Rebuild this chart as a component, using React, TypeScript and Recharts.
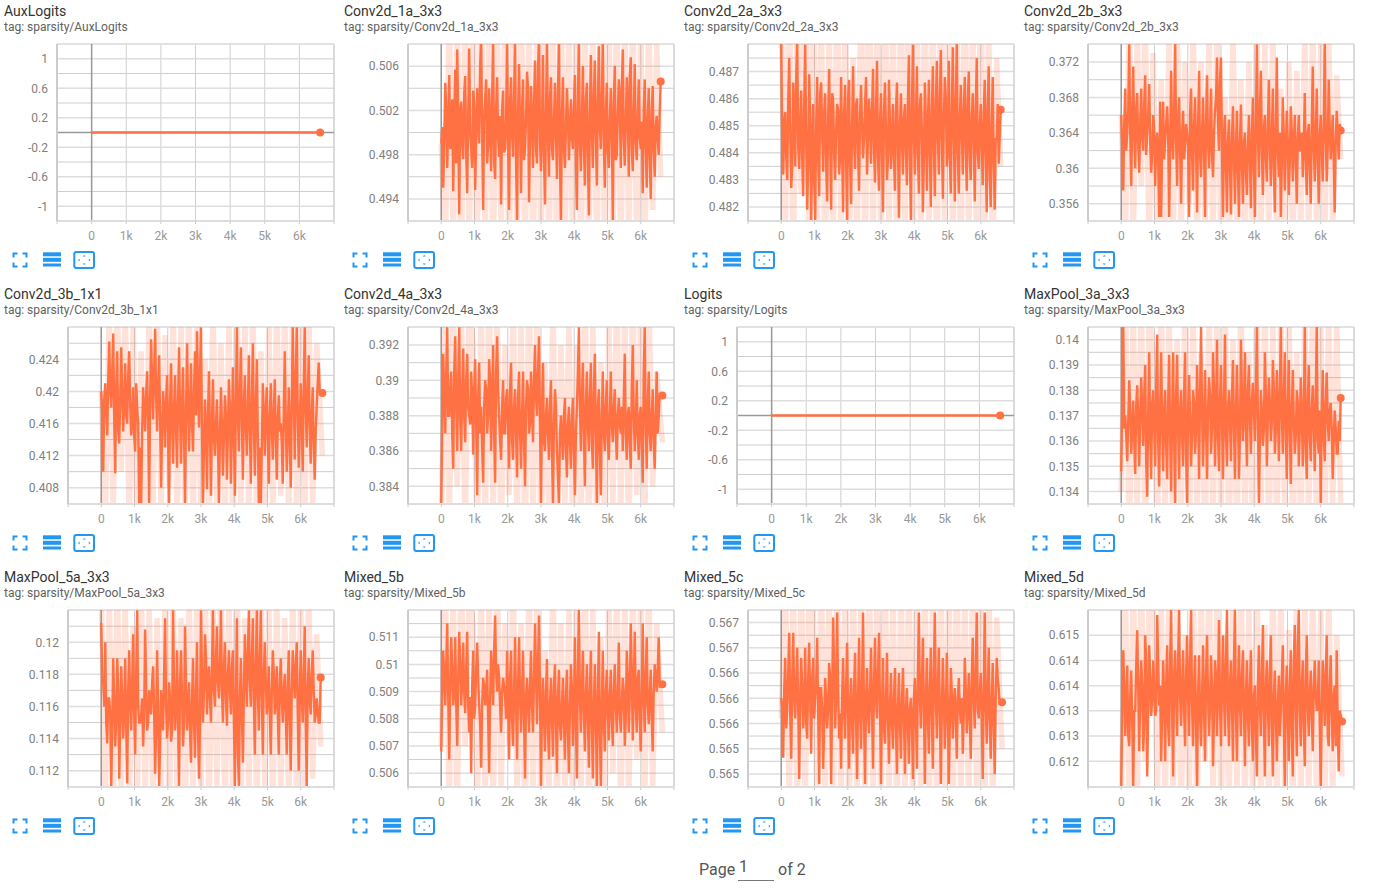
import {
  LineChart,
  Line,
  XAxis,
  YAxis,
  CartesianGrid,
  ReferenceLine,
  ReferenceDot,
} from "recharts";

const ORANGE = "#ff7043";
const BLUE = "#2196f3";
const FONT = "Roboto, sans-serif";

const STEPS = [
  0, 60, 120, 180, 240, 300, 360, 420, 480, 540,
  600, 660, 720, 780, 840, 900, 960, 1020, 1080, 1140,
  1200, 1260, 1320, 1380, 1440, 1500, 1560, 1620, 1680, 1740,
  1800, 1860, 1920, 1980, 2040, 2100, 2160, 2220, 2280, 2340,
  2400, 2460, 2520, 2580, 2640, 2700, 2760, 2820, 2880, 2940,
  3000, 3060, 3120, 3180, 3240, 3300, 3360, 3420, 3480, 3540,
  3600, 3660, 3720, 3780, 3840, 3900, 3960, 4020, 4080, 4140,
  4200, 4260, 4320, 4380, 4440, 4500, 4560, 4620, 4680, 4740,
  4800, 4860, 4920, 4980, 5040, 5100, 5160, 5220, 5280, 5340,
  5400, 5460, 5520, 5580, 5640, 5700, 5760, 5820, 5880, 5940,
  6000, 6060, 6120, 6180, 6240, 6300, 6360, 6420, 6480, 6540,
];
const X_TICKS = [-1000, 0, 1000, 2000, 3000, 4000, 5000, 6000, 7000];

// smoothed spikes, last entry is the end dot
const CONV_1A = [
  .4990, .4950, .5045, .4968, .5052, .4990, .4947, .5057, .5075, .4926,
  .5028, .4976, .5051, .4945, .5076, .4985, .5038, .4948, .5040, .4990,
  .5085, .4930, .5030, .4972, .5040, .4965, .5082, .4958, .5050, .4978,
  .4935, .5038, .4985, .5085, .4930, .5050, .4978, .5085, .4920, .5062,
  .4945, .5048, .4985, .5055, .4937, .5042, .4968, .5065, .4972, .5085,
  .4965, .5070, .4935, .5085, .4960, .5050, .4975, .5045, .4958, .5085,
  .4920, .5050, .4968, .5040, .4975, .5030, .4985, .5052, .4930, .5085,
  .4965, .5060, .4952, .5045, .4925, .5070, .4968, .5065, .4952, .5078,
  .4985, .5085, .4950, .5045, .4968, .5040, .4920, .5060, .4980, .5048,
  .4968, .5075, .4970, .5050, .4960, .5068, .4965, .5062, .4975, .5048,
  .4985, .4945, .5048, .4950, .5040, .4940, .5042, .4960, .5015, .4980,
  .5046,
];
const CONV_2A = [
  .4881, .4832, .4855, .4830, .4875, .4827, .4866, .4835, .4882, .4834,
  .4863, .4824, .4880, .4819, .4869, .4815, .4858, .4814, .4868, .4824,
  .4866, .4833, .4862, .4822, .4871, .4819, .4860, .4830, .4858, .4832,
  .4868, .4818, .4865, .4814, .4867, .4821, .4872, .4834, .4860, .4826,
  .4865, .4838, .4858, .4832, .4860, .4836, .4871, .4829, .4874, .4826,
  .4862, .4818, .4866, .4830, .4867, .4834, .4858, .4826, .4866, .4816,
  .4862, .4832, .4858, .4828, .4876, .4815, .4880, .4832, .4872, .4825,
  .4862, .4818, .4866, .4826, .4867, .4820, .4872, .4824, .4874, .4832,
  .4878, .4823, .4868, .4835, .4874, .4825, .4879, .4822, .4881, .4825,
  .4865, .4832, .4868, .4826, .4870, .4830, .4862, .4822, .4875, .4834,
  .4858, .4828, .4867, .4818, .4872, .4820, .4868, .4819, .4845, .4836,
  .48559,
];
const CONV_2B = [
  .3660, .3575, .3690, .3640, .3740, .3580, .3715, .3600, .3685, .3595,
  .3690, .3620, .3705, .3640, .3695, .3595, .3660, .3580, .3640, .3545,
  .3545, .3675, .3630, .3670, .3545, .3710, .3610, .3745, .3580, .3680,
  .3560, .3665, .3625, .3640, .3545, .3690, .3575, .3680, .3550, .3710,
  .3590, .3680, .3545, .3705, .3600, .3690, .3590, .3665, .3725, .3620,
  .3725, .3545, .3660, .3550, .3655, .3548, .3670, .3560, .3665, .3545,
  .3672, .3560, .3640, .3570, .3660, .3555, .3680, .3545, .3740, .3590,
  .3710, .3570, .3660, .3585, .3700, .3580, .3690, .3550, .3725, .3590,
  .3545, .3680, .3575, .3665, .3570, .3670, .3585, .3660, .3560, .3660,
  .3620, .3590, .3685, .3570, .3650, .3560, .3715, .3585, .3690, .3560,
  .3660, .3585, .3745, .3585, .3700, .3610, .3660, .3550, .3665, .3610,
  .36426,
];
const CONV_3B = [
  .4200, .4100, .4210, .4145, .4262, .4180, .4272, .4098, .4250, .4135,
  .4255, .4150, .4235, .4160, .4250, .4145, .4205, .4125, .4180, .4060,
  .4060, .4205, .4150, .4225, .4060, .4265, .4165, .4278, .4150, .4245,
  .4080, .4200, .4130, .4220, .4055, .4235, .4110, .4220, .4105, .4255,
  .4110, .4230, .4060, .4260, .4125, .4235, .4125, .4250, .4275, .4155,
  .4280, .4060, .4190, .4078, .4225, .4070, .4215, .4120, .4190, .4060,
  .4205, .4095, .4195, .4090, .4215, .4085, .4230, .4070, .4280, .4125,
  .4255, .4090, .4220, .4120, .4245, .4085, .4260, .4095, .4240, .4060,
  .4060, .4210, .4120, .4205, .4085, .4210, .4115, .4215, .4090, .4195,
  .4160, .4085, .4250, .4100, .4205, .4080, .4280, .4115, .4280, .4105,
  .4210, .4100, .4280, .4130, .4245, .4110, .4205, .4090, .4182, .4236,
  .41981,
];
const CONV_4A = [
  .3830, .3915, .3870, .3930, .3880, .3905, .3850, .3925, .3860, .3930,
  .3860, .3918, .3865, .3915, .3880, .3905, .3858, .3912, .3835, .3910,
  .3885, .3842, .3900, .3870, .3912, .3860, .3920, .3842, .3925, .3880,
  .3855, .3900, .3870, .3895, .3850, .3910, .3855, .3895, .3845, .3905,
  .3850, .3905, .3840, .3900, .3870, .3905, .3865, .3920, .3880, .3925,
  .3830, .3910, .3860, .3890, .3855, .3900, .3830, .3895, .3860, .3830,
  .3880, .3855, .3890, .3845, .3885, .3850, .3890, .3835, .3885, .3930,
  .3860, .3910, .3840, .3905, .3860, .3910, .3850, .3915, .3830, .3895,
  .3835, .3905, .3860, .3900, .3855, .3905, .3865, .3895, .3855, .3890,
  .3870, .3860, .3915, .3855, .3885, .3850, .3920, .3860, .3900, .3855,
  .3885, .3842, .3930, .3850, .3905, .3860, .3895, .3850, .3905, .3880,
  .38914,
];
const MAX_3A = [
  .1348, .1405, .1370, .1352, .1384, .1355, .1376, .1347, .1382, .1350,
  .1385, .1358, .1390, .1338, .1395, .1345, .1380, .1350, .1402, .1342,
  .1395, .1348, .1380, .1345, .1394, .1340, .1395, .1335, .1394, .1345,
  .1380, .1350, .1395, .1335, .1386, .1350, .1380, .1355, .1390, .1345,
  .1405, .1350, .1388, .1345, .1385, .1355, .1395, .1350, .1400, .1348,
  .1390, .1345, .1402, .1350, .1380, .1352, .1392, .1345, .1390, .1345,
  .1400, .1360, .1395, .1350, .1390, .1355, .1383, .1360, .1405, .1335,
  .1380, .1358, .1395, .1350, .1385, .1360, .1392, .1355, .1388, .1352,
  .1405, .1355, .1395, .1345, .1392, .1343, .1388, .1355, .1380, .1350,
  .1385, .1350, .1405, .1345, .1390, .1352, .1382, .1348, .1405, .1355,
  .1335, .1388, .1352, .1387, .1360, .1375, .1345, .1372, .1355, .1368,
  .1377,
];
const MAX_5A = [
  .1212, .1175, .1200, .1137, .1165, .1110, .1190, .1135, .1190, .1115,
  .1185, .1140, .1190, .1112, .1195, .1145, .1205, .1130, .1220, .1150,
  .1155, .1135, .1208, .1145, .1170, .1155, .1185, .1118, .1195, .1110,
  .1170, .1145, .1215, .1140, .1175, .1138, .1220, .1145, .1195, .1110,
  .1195, .1135, .1210, .1145, .1175, .1125, .1190, .1128, .1200, .1115,
  .1220, .1150, .1205, .1155, .1185, .1150, .1220, .1160, .1210, .1165,
  .1220, .1150, .1200, .1148, .1195, .1155, .1195, .1110, .1215, .1110,
  .1190, .1125, .1205, .1160, .1220, .1160, .1215, .1130, .1220, .1145,
  .1220, .1130, .1200, .1155, .1185, .1130, .1195, .1155, .1185, .1130,
  .1190, .1150, .1180, .1130, .1195, .1120, .1195, .1165, .1200, .1120,
  .1195, .1150, .1210, .1110, .1190, .1155, .1195, .1150, .1165, .1150,
  .1178,
];
const MIXED_5B = [
  .5068, .5105, .5085, .5115, .5065, .5110, .5085, .5110, .5070, .5112,
  .5085, .5108, .5082, .5112, .5075, .5060, .5105, .5085, .5108, .5085,
  .5062, .5095, .5085, .5098, .5060, .5105, .5085, .5118, .5090, .5095,
  .5075, .5095, .5088, .5105, .5065, .5105, .5070, .5110, .5065, .5110,
  .5075, .5105, .5058, .5095, .5075, .5105, .5075, .5115, .5078, .5118,
  .5055, .5095, .5068, .5102, .5065, .5095, .5066, .5100, .5060, .5098,
  .5072, .5095, .5065, .5098, .5060, .5100, .5070, .5110, .5058, .5120,
  .5075, .5105, .5068, .5100, .5062, .5105, .5058, .5100, .5055, .5112,
  .5055, .5105, .5068, .5098, .5072, .5098, .5070, .5100, .5075, .5108,
  .5075, .5095, .5070, .5105, .5075, .5115, .5072, .5112, .5075, .5098,
  .5068, .5115, .5075, .5110, .5078, .5098, .5068, .5100, .5090, .5110,
  .50927,
];
const MIXED_5C = [
  .56600, .56541, .56640, .56590, .56665, .56540, .56665, .56580, .56650, .56520,
  .56640, .56570, .56650, .56560, .56655, .56545, .56640, .56600, .56660, .56515,
  .56610, .56530, .56620, .56570, .56635, .56515, .56680, .56570, .56685, .56560,
  .56530, .56640, .56560, .56655, .56530, .56620, .56545, .56645, .56520, .56660,
  .56550, .56685, .56515, .56630, .56565, .56650, .56530, .56660, .56580, .56665,
  .56515, .56640, .56555, .56645, .56535, .56625, .56550, .56630, .56525, .56625,
  .56540, .56630, .56525, .56610, .56535, .56600, .56520, .56620, .56530, .56685,
  .56570, .56660, .56515, .56640, .56545, .56650, .56530, .56685, .56560, .56650,
  .56515, .56640, .56550, .56645, .56515, .56630, .56560, .56610, .56540, .56620,
  .56575, .56545, .56640, .56565, .56625, .56540, .56660, .56570, .56685, .56580,
  .56625, .56520, .56685, .56555, .56650, .56540, .56635, .56525, .56640, .56610,
  .56596,
];
const MIXED_5D = [
  .6120, .6147, .6130, .6144, .6128, .6143, .6120, .6135, .6151, .6127,
  .6145, .6127, .6150, .6122, .6148, .6134, .6145, .6134, .6154, .6136,
  .6125, .6145, .6125, .6148, .6128, .6155, .6122, .6147, .6130, .6155,
  .6132, .6147, .6128, .6150, .6130, .6155, .6128, .6146, .6120, .6146,
  .6128, .6148, .6125, .6150, .6130, .6146, .6124, .6145, .6130, .6153,
  .6128, .6150, .6130, .6155, .6128, .6145, .6125, .6155, .6125, .6148,
  .6130, .6147, .6124, .6145, .6128, .6147, .6125, .6140, .6122, .6148,
  .6130, .6152, .6122, .6145, .6128, .6150, .6122, .6143, .6125, .6142,
  .6135, .6148, .6120, .6144, .6125, .6147, .6122, .6152, .6126, .6155,
  .6128, .6145, .6124, .6150, .6130, .6143, .6127, .6145, .6135, .6145,
  .6120, .6145, .6132, .6150, .6128, .6146, .6127, .6140, .6147, .6123,
  .61329,
];

// values between the spikes, one after each step above
const MID_1A = [
  .5005, .4992, .5022, .5010, .4985, .5030, .5008, .4972, .5012, .5020,
  .4990, .5035, .4982, .5015, .5000, .4968, .5025, .4995, .5010, .5060,
  .4998, .5012, .5048, .4988, .5005, .5030, .4975, .5022, .4995, .5015,
  .5020, .4982, .5010, .4990, .5028, .4998, .5032, .4972, .5018, .5002,
  .5022, .4975, .5012, .5040, .4996, .5010, .5025, .4985, .5058, .4992,
  .5005, .4980, .5015, .4998, .5030, .4985, .5012, .5000, .5035, .4975,
  .5018, .4985, .5005, .5015, .5002, .4995, .5022, .4972, .5030, .4990,
  .5012, .4988, .5030, .4978, .5015, .5002, .5035, .4995, .5025, .5005,
  .5030, .4990, .5018, .4982, .5010, .5000, .5028, .4975, .5015, .5025,
  .5040, .4992, .5008, .5020, .5052, .4985, .5018, .4990, .5012, .4995,
  .5010, .5022, .4988, .5012, .4978, .5020, .4985, .5005, .4995, .5018,
];
const MID_2A = [
  .4845, .4852, .4838, .4860, .4848, .4835, .4855, .4868, .4842, .4852,
  .4838, .4858, .4845, .4835, .4852, .4842, .4830, .4850, .4838, .4862,
  .4848, .4855, .4836, .4852, .4844, .4862, .4840, .4848, .4856, .4838,
  .4842, .4855, .4838, .4860, .4835, .4850, .4844, .4858, .4840, .4854,
  .4850, .4845, .4868, .4846, .4852, .4855, .4842, .4856, .4838, .4852,
  .4840, .4855, .4848, .4838, .4850, .4846, .4838, .4855, .4842, .4850,
  .4845, .4853, .4840, .4860, .4838, .4856, .4846, .4852, .4840, .4858,
  .4848, .4838, .4852, .4850, .4840, .4856, .4842, .4858, .4846, .4860,
  .4845, .4852, .4860, .4842, .4838, .4855, .4848, .4858, .4840, .4852,
  .4848, .4856, .4842, .4860, .4838, .4852, .4846, .4856, .4840, .4850,
  .4842, .4855, .4838, .4858, .4832, .4850, .4836, .4845, .4858, .4846,
];
const MID_2B = [
  .3625, .3650, .3620, .3665, .3640, .3660, .3635, .3670, .3625, .3650,
  .3635, .3672, .3615, .3660, .3630, .3615, .3645, .3625, .3610, .3675,
  .3625, .3610, .3650, .3640, .3620, .3645, .3660, .3630, .3655, .3620,
  .3640, .3610, .3650, .3625, .3660, .3615, .3650, .3625, .3645, .3615,
  .3640, .3620, .3650, .3630, .3645, .3615, .3640, .3680, .3650, .3700,
  .3620, .3640, .3600, .3630, .3600, .3635, .3610, .3625, .3595, .3630,
  .3605, .3630, .3595, .3625, .3610, .3640, .3600, .3650, .3640, .3665,
  .3620, .3645, .3610, .3650, .3625, .3640, .3600, .3650, .3620, .3640,
  .3610, .3635, .3620, .3630, .3610, .3640, .3625, .3610, .3635, .3620,
  .3640, .3630, .3610, .3640, .3600, .3650, .3625, .3640, .3610, .3635,
  .3620, .3650, .3640, .3625, .3645, .3635, .3610, .3630, .3640, .3650,
];
const MID_3B = [
  .4175, .4190, .4180, .4215, .4200, .4225, .4165, .4205, .4150, .4190,
  .4200, .4185, .4170, .4220, .4185, .4165, .4145, .4210, .4160, .4130,
  .4150, .4175, .4195, .4165, .4190, .4210, .4225, .4195, .4205, .4165,
  .4150, .4175, .4190, .4150, .4185, .4160, .4180, .4150, .4190, .4170,
  .4185, .4145, .4170, .4190, .4180, .4160, .4200, .4170, .4205, .4220,
  .4150, .4130, .4150, .4170, .4145, .4165, .4140, .4160, .4135, .4145,
  .4160, .4145, .4170, .4150, .4180, .4155, .4140, .4190, .4170, .4200,
  .4165, .4185, .4155, .4180, .4150, .4190, .4160, .4185, .4140, .4130,
  .4135, .4165, .4180, .4140, .4170, .4155, .4175, .4140, .4165, .4150,
  .4135, .4180, .4165, .4150, .4140, .4185, .4200, .4215, .4170, .4155,
  .4165, .4205, .4180, .4195, .4155, .4170, .4135, .4150, .4210, .4200,
];
const MID_4A = [
  .3875, .3892, .3905, .3880, .3895, .3870, .3905, .3885, .3900, .3878,
  .3895, .3880, .3900, .3885, .3875, .3890, .3895, .3875, .3890, .3870,
  .3862, .3885, .3895, .3880, .3900, .3890, .3870, .3905, .3895, .3865,
  .3885, .3870, .3890, .3875, .3895, .3865, .3885, .3870, .3890, .3870,
  .3880, .3865, .3885, .3895, .3875, .3885, .3900, .3890, .3905, .3875,
  .3885, .3865, .3880, .3870, .3885, .3860, .3875, .3885, .3845, .3870,
  .3868, .3880, .3860, .3875, .3865, .3878, .3860, .3870, .3905, .3885,
  .3890, .3870, .3885, .3875, .3890, .3865, .3895, .3870, .3885, .3860,
  .3880, .3870, .3885, .3865, .3880, .3875, .3885, .3870, .3880, .3875,
  .3885, .3890, .3870, .3880, .3865, .3895, .3880, .3875, .3870, .3880,
  .3865, .3905, .3875, .3885, .3870, .3880, .3865, .3880, .3870, .3892,
];
const MID_3A = [
  .1375, .1365, .1362, .1368, .1372, .1365, .1360, .1374, .1368, .1370,
  .1372, .1378, .1352, .1370, .1362, .1375, .1365, .1380, .1360, .1372,
  .1365, .1372, .1358, .1375, .1362, .1370, .1360, .1378, .1365, .1372,
  .1362, .1378, .1355, .1372, .1368, .1362, .1375, .1365, .1372, .1378,
  .1372, .1368, .1365, .1372, .1378, .1365, .1380, .1370, .1362, .1376,
  .1368, .1376, .1362, .1372, .1368, .1378, .1365, .1372, .1370, .1362,
  .1378, .1375, .1365, .1380, .1368, .1376, .1372, .1380, .1368, .1360,
  .1372, .1365, .1378, .1370, .1375, .1368, .1380, .1365, .1372, .1378,
  .1370, .1378, .1362, .1375, .1365, .1372, .1368, .1362, .1375, .1365,
  .1372, .1368, .1358, .1375, .1362, .1372, .1366, .1378, .1360, .1372,
  .1370, .1362, .1375, .1368, .1372, .1365, .1360, .1365, .1355, .1360,
];
const MID_5A = [
  .1178, .1160, .1150, .1165, .1155, .1148, .1165, .1150, .1170, .1150,
  .1165, .1158, .1148, .1170, .1162, .1175, .1155, .1180, .1160, .1150,
  .1165, .1155, .1172, .1150, .1162, .1175, .1158, .1145, .1160, .1135,
  .1155, .1180, .1160, .1150, .1165, .1145, .1170, .1160, .1150, .1175,
  .1165, .1150, .1172, .1160, .1145, .1165, .1150, .1170, .1145, .1150,
  .1180, .1170, .1190, .1175, .1165, .1185, .1170, .1190, .1175, .1185,
  .1170, .1185, .1165, .1180, .1170, .1185, .1150, .1165, .1130, .1165,
  .1155, .1170, .1180, .1195, .1175, .1190, .1165, .1185, .1170, .1190,
  .1165, .1180, .1175, .1165, .1155, .1170, .1180, .1165, .1155, .1175,
  .1165, .1170, .1155, .1175, .1150, .1170, .1180, .1185, .1155, .1170,
  .1165, .1180, .1150, .1170, .1165, .1180, .1170, .1155, .1158, .1150,
];
const MID_5B = [
  .5090, .5095, .5100, .5088, .5092, .5098, .5090, .5085, .5095, .5100,
  .5095, .5090, .5098, .5085, .5088, .5092, .5080, .5098, .5095, .5078,
  .5085, .5092, .5090, .5080, .5088, .5095, .5105, .5098, .5100, .5085,
  .5090, .5092, .5080, .5088, .5095, .5080, .5090, .5085, .5092, .5088,
  .5090, .5080, .5088, .5085, .5092, .5085, .5095, .5098, .5100, .5088,
  .5085, .5080, .5090, .5075, .5085, .5080, .5092, .5078, .5088, .5078,
  .5085, .5078, .5088, .5075, .5085, .5090, .5082, .5078, .5098, .5088,
  .5092, .5082, .5088, .5080, .5090, .5078, .5085, .5080, .5088, .5075,
  .5085, .5078, .5090, .5082, .5088, .5080, .5090, .5085, .5088, .5082,
  .5085, .5090, .5080, .5095, .5088, .5098, .5090, .5085, .5095, .5080,
  .5090, .5088, .5095, .5085, .5088, .5080, .5090, .5095, .5098, .5092,
];
const MID_5C = [
  .56590, .56610, .56570, .56625, .56585, .56620, .56600, .56615, .56590, .56600,
  .56610, .56595, .56575, .56620, .56600, .56620, .56580, .56615, .56585, .56610,
  .56590, .56570, .56600, .56590, .56620, .56600, .56630, .56600, .56610, .56585,
  .56600, .56590, .56610, .56585, .56595, .56575, .56610, .56580, .56600, .56590,
  .56610, .56580, .56600, .56585, .56605, .56590, .56615, .56600, .56625, .56590,
  .56590, .56570, .56600, .56580, .56590, .56575, .56600, .56570, .56590, .56575,
  .56595, .56580, .56590, .56570, .56590, .56575, .56600, .56580, .56625, .56600,
  .56615, .56590, .56600, .56580, .56610, .56585, .56625, .56600, .56610, .56585,
  .56590, .56600, .56585, .56595, .56575, .56605, .56590, .56580, .56600, .56590,
  .56600, .56585, .56610, .56590, .56580, .56620, .56600, .56625, .56590, .56605,
  .56585, .56610, .56595, .56605, .56580, .56595, .56575, .56600, .56620, .56595,
];
const MID_5D = [
  .6135, .6140, .6136, .6130, .6138, .6133, .6135, .6144, .6140, .6138,
  .6140, .6132, .6145, .6135, .6142, .6137, .6140, .6135, .6145, .6140,
  .6135, .6138, .6140, .6132, .6145, .6135, .6142, .6137, .6145, .6138,
  .6140, .6135, .6142, .6138, .6145, .6136, .6140, .6132, .6138, .6134,
  .6138, .6135, .6142, .6138, .6136, .6140, .6134, .6142, .6140, .6136,
  .6140, .6138, .6145, .6135, .6140, .6136, .6145, .6134, .6140, .6136,
  .6142, .6135, .6138, .6134, .6140, .6132, .6138, .6130, .6140, .6136,
  .6142, .6134, .6140, .6136, .6142, .6132, .6138, .6134, .6136, .6130,
  .6142, .6132, .6138, .6134, .6140, .6130, .6145, .6136, .6148, .6135,
  .6140, .6132, .6142, .6136, .6138, .6134, .6140, .6138, .6136, .6132,
  .6135, .6140, .6142, .6130, .6140, .6135, .6138, .6128, .6132, .6135,
];

// raw values behind the smoothed line, one for every second step
const RAW_1A = [
  .499, .489, .511, .490, .510, .488, .512, .490,
  .511, .489, .513, .490, .511, .488, .510, .491,
  .512, .488, .511, .490, .513, .489, .510, .488,
  .511, .490, .512, .489, .511, .488, .513, .490,
  .510, .489, .512, .488, .511, .490, .510, .489,
  .513, .488, .511, .490, .512, .489, .510, .491,
  .511, .490, .509, .489, .510, .493, .508, .496,
];
const RAW_2A = [
  .489, .481, .490, .480, .489, .4825, .491, .480,
  .490, .481, .489, .480, .4885, .4805, .490, .481,
  .489, .480, .4875, .4805, .490, .480, .491, .481,
  .489, .4805, .490, .481, .489, .480, .490, .4805,
  .491, .480, .489, .4805, .490, .481, .489, .480,
  .490, .481, .491, .4805, .489, .480, .490, .481,
  .489, .4805, .490, .481, .4885, .480, .4875, .4835,
];
const RAW_2B = [
  .366, .352, .376, .352, .375, .358, .376, .352,
  .373, .351, .370, .350, .375, .352, .377, .353,
  .372, .356, .376, .351, .372, .353, .375, .352,
  .376, .351, .368, .350, .375, .352, .370, .351,
  .372, .350, .376, .352, .374, .353, .375, .352,
  .369, .350, .372, .351, .371, .353, .375, .352,
  .376, .353, .374, .352, .375, .354, .3705, .361,
];
const RAW_3B = [
  .420, .404, .430, .405, .431, .410, .430, .404,
  .428, .403, .425, .402, .430, .406, .431, .405,
  .427, .408, .430, .404, .428, .405, .431, .403,
  .430, .404, .424, .403, .430, .405, .426, .404,
  .428, .403, .431, .406, .429, .405, .430, .404,
  .425, .403, .428, .405, .431, .407, .430, .404,
  .431, .405, .429, .404, .430, .406, .426, .412,
];
const RAW_4A = [
  .382, .394, .382, .395, .384, .394, .3815, .395,
  .392, .381, .394, .382, .395, .3825, .394, .381,
  .392, .3835, .394, .382, .393, .381, .395, .382,
  .394, .381, .391, .382, .394, .3815, .392, .383,
  .393, .381, .392, .382, .395, .381, .393, .382,
  .391, .381, .393, .383, .395, .3825, .394, .381,
  .395, .3835, .394, .382, .395, .384, .3905, .3865,
];
const RAW_3A = [
  .134, .142, .132, .141, .133, .1415, .132, .141,
  .1395, .132, .1415, .133, .141, .132, .140, .133,
  .1415, .132, .141, .133, .1395, .132, .1415, .1325,
  .141, .133, .1415, .132, .140, .1325, .1415, .133,
  .1395, .132, .141, .133, .1415, .132, .1405, .1325,
  .141, .133, .1415, .132, .1395, .1325, .141, .133,
  .1415, .132, .1405, .1325, .141, .1335, .1405, .1335,
];
const RAW_5A = [
  .123, .110, .1225, .1095, .1235, .111, .1225, .1095,
  .121, .110, .1235, .1105, .122, .1095, .1215, .1105,
  .123, .109, .1225, .1105, .1215, .109, .123, .110,
  .1235, .1105, .124, .1095, .1225, .111, .1235, .1095,
  .1225, .110, .124, .1095, .1215, .1105, .123, .1095,
  .1235, .111, .122, .1095, .1225, .1105, .1215, .110,
  .123, .1095, .1225, .1105, .123, .1115, .1205, .1135,
];
const RAW_5B = [
  .507, .513, .505, .5125, .5045, .5135, .507, .5125,
  .5115, .5045, .513, .505, .5125, .5045, .5135, .5055,
  .5115, .507, .513, .505, .5115, .504, .513, .505,
  .5125, .5045, .5105, .505, .513, .5045, .5115, .505,
  .512, .5045, .5125, .505, .5135, .5045, .512, .505,
  .511, .5045, .5125, .506, .513, .5045, .5125, .505,
  .513, .5065, .5125, .505, .513, .5055, .5115, .5075,
];
const RAW_5C = [
  .5658, .5672, .5650, .5671, .5649, .5672, .5650, .5671,
  .5670, .5648, .5672, .5650, .5671, .5649, .5672, .5650,
  .5671, .5648, .5672, .5650, .5670, .5649, .5673, .5650,
  .5671, .5649, .5672, .5650, .5670, .5648, .5671, .5650,
  .5672, .5649, .5670, .5650, .5672, .5648, .5671, .5649,
  .5672, .5650, .5671, .5648, .5673, .5650, .5670, .5649,
  .5672, .5650, .5671, .5649, .5672, .5650, .5668, .5655,
];
const RAW_5D = [
  .6118, .6158, .6116, .6160, .6118, .6162, .6125, .6157,
  .6160, .6117, .6158, .6116, .6161, .6118, .6157, .6115,
  .6150, .6118, .6160, .6115, .6158, .6125, .6161, .6118,
  .6157, .6115, .6150, .6116, .6158, .6118, .6161, .6115,
  .6155, .6116, .6160, .6118, .6152, .6115, .6161, .6116,
  .6158, .6118, .6151, .6115, .6160, .6117, .6156, .6118,
  .6160, .6116, .6155, .6115, .6158, .6118, .6150, .6122,
];

type Panel = {
  title: string;
  axisWidth: number;
  domain: [number, number];
  ticks: number[];
  minor: number[];
  labels?: string[];
  smooth?: number[];
  mid?: number[];
  raw?: number[];
  end: number;
};

const FLAT_TICKS = [1, 0.6, 0.2, -0.2, -0.6, -1];
const FLAT_MINOR = [0.8, 0.4, -0.4, -0.8];

const PANELS: Panel[] = [
  { title: "AuxLogits", axisWidth: 57, domain: [-1.2, 1.2], ticks: FLAT_TICKS, minor: FLAT_MINOR, end: 6600 },
  { title: "Conv2d_1a_3x3", axisWidth: 68, domain: [0.492, 0.508], ticks: [0.506, 0.502, 0.498, 0.494], minor: [0.504, 0.5, 0.496], smooth: CONV_1A, mid: MID_1A, raw: RAW_1A, end: 6600 },
  { title: "Conv2d_2a_3x3", axisWidth: 68, domain: [0.48148, 0.48802], ticks: [0.487, 0.486, 0.485, 0.484, 0.483, 0.482], minor: [0.4875, 0.4865, 0.4855, 0.4845, 0.4835, 0.4825], smooth: CONV_2A, mid: MID_2A, raw: RAW_2A, end: 6600 },
  { title: "Conv2d_2b_3x3", axisWidth: 68, domain: [0.35405, 0.37403], ticks: [0.372, 0.368, 0.364, 0.36, 0.356], minor: [0.37, 0.366, 0.362, 0.358], smooth: CONV_2B, mid: MID_2B, raw: RAW_2B, end: 6600 },
  { title: "Conv2d_3b_1x1", axisWidth: 68, domain: [0.40597, 0.42802], ticks: [0.424, 0.42, 0.416, 0.412, 0.408], minor: [0.426, 0.422, 0.418, 0.414, 0.41], smooth: CONV_3B, mid: MID_3B, raw: RAW_3B, end: 6650 },
  { title: "Conv2d_4a_3x3", axisWidth: 68, domain: [0.383, 0.39302], ticks: [0.392, 0.39, 0.388, 0.386, 0.384], minor: [0.391, 0.389, 0.387, 0.385], smooth: CONV_4A, mid: MID_4A, raw: RAW_4A, end: 6650 },
  { title: "Logits", axisWidth: 57, domain: [-1.2, 1.2], ticks: FLAT_TICKS, minor: FLAT_MINOR, end: 6600 },
  { title: "MaxPool_3a_3x3", axisWidth: 68, domain: [0.13351, 0.1405], ticks: [0.14, 0.139, 0.138, 0.137, 0.136, 0.135, 0.134], minor: [0.1395, 0.1385, 0.1375, 0.1365, 0.1355, 0.1345], smooth: MAX_3A, mid: MID_3A, raw: RAW_3A, end: 6600 },
  { title: "MaxPool_5a_3x3", axisWidth: 68, domain: [0.11098, 0.12201], ticks: [0.12, 0.118, 0.116, 0.114, 0.112], minor: [0.121, 0.119, 0.117, 0.115, 0.113], smooth: MAX_5A, mid: MID_5A, raw: RAW_5A, end: 6600 },
  { title: "Mixed_5b", axisWidth: 68, domain: [0.50549, 0.512], ticks: [0.511, 0.51, 0.509, 0.508, 0.507, 0.506], minor: [0.5115, 0.5105, 0.5095, 0.5085, 0.5075, 0.5065], smooth: MIXED_5B, mid: MID_5B, raw: RAW_5B, end: 6650 },
  { title: "Mixed_5c", axisWidth: 68, domain: [0.56512, 0.566875], ticks: [0.56675, 0.5665, 0.56625, 0.566, 0.56575, 0.5655, 0.56525], minor: [0.566625, 0.566375, 0.566125, 0.565875, 0.565625, 0.565375], labels: ["0.567", "0.567", "0.566", "0.566", "0.566", "0.565", "0.565"], smooth: MIXED_5C, mid: MID_5C, raw: RAW_5C, end: 6640 },
  { title: "Mixed_5d", axisWidth: 68, domain: [0.61199, 0.6155], ticks: [0.615, 0.6145, 0.614, 0.6135, 0.613, 0.6125], minor: [], labels: ["0.615", "0.614", "0.614", "0.613", "0.613", "0.612"], smooth: MIXED_5D, mid: MID_5D, raw: RAW_5D, end: 6640 },
];

const COL_W = 340;
const ROW_H = 283;

function buildTable(panel: Panel) {
  const values = panel.smooth ?? [0, 0];
  const table: { step: number; smooth: number; raw?: number }[] = [];
  values.forEach((v, i) => {
    const last = i === values.length - 1;
    table.push({
      step: last ? panel.end : STEPS[i],
      smooth: v,
      raw: panel.raw && i % 2 === 0 ? panel.raw[i / 2] : undefined,
    });
    if (!last && panel.mid) table.push({ step: STEPS[i] + 30, smooth: panel.mid[i] });
  });
  return table;
}

function Icons({ left, top }: { left: number; top: number }) {
  return (
    <svg width={100} height={24} style={{ position: "absolute", left, top }}>
      <path
        d="M13.5 9.5v-4h4M22.5 5.5h4v4M26.5 14.5v4h-4M17.5 18.5h-4v-4"
        fill="none"
        stroke={BLUE}
        strokeWidth={2}
      />
      <rect x={43} y={4.3} width={18} height={4} fill={BLUE} />
      <rect x={43} y={9.8} width={18} height={4} fill={BLUE} />
      <rect x={43} y={15.5} width={18} height={3} fill={BLUE} />
      <rect x={74.3} y={4} width={19.7} height={16} rx={2} fill="none" stroke={BLUE} strokeWidth={2} />
      <path
        d="M84.2 7l1.6 1.6h-3.2zM84.2 17l1.6-1.6h-3.2zM78 12l1.6-1.6v3.2zM90.4 12l-1.6-1.6v3.2z"
        fill={BLUE}
      />
    </svg>
  );
}

function ScalarCard({ panel, index }: { panel: Panel; index: number }) {
  const col = index % 4;
  const row = Math.floor(index / 4);
  const left = col * COL_W;
  const top = row * ROW_H;
  const table = buildTable(panel);
  const label = (v: number) => {
    const at = panel.ticks.indexOf(v);
    return panel.labels && at >= 0 ? panel.labels[at] : String(v);
  };
  return (
    <>
      <div
        style={{
          position: "absolute",
          left: left + 4,
          top: top + 3,
          fontFamily: FONT,
          fontSize: 14,
          lineHeight: "16px",
          color: "#333",
          whiteSpace: "nowrap",
        }}
      >
        {panel.title}
      </div>
      <div
        style={{
          position: "absolute",
          left: left + 4,
          top: top + 20,
          fontFamily: FONT,
          fontSize: 12,
          lineHeight: "14px",
          color: "#616161",
          whiteSpace: "nowrap",
        }}
      >
        tag: sparsity/{panel.title}
      </div>
      <div style={{ position: "absolute", left, top: top + 40 }}>
        <LineChart
          width={COL_W}
          height={207}
          data={table}
          margin={{ top: 4, right: 6, bottom: 0, left: 0 }}
        >
          <CartesianGrid horizontal={false} stroke="#cfcfcf" strokeWidth={1} />
          <XAxis
            dataKey="step"
            type="number"
            domain={[-1000, 7000]}
            ticks={X_TICKS}
            interval={0}
            height={26}
            tickSize={3}
            tickMargin={7}
            tickFormatter={(v: number) =>
              v === 0 ? "0" : v < 0 || v > 6000 ? "" : `${v / 1000}k`
            }
            tick={{ fill: "#999", fontSize: 12, fontFamily: FONT }}
            tickLine={{ stroke: "#ccc" }}
            axisLine={{ stroke: "#ddd", strokeWidth: 2 }}
          />
          <YAxis
            type="number"
            domain={panel.domain}
            ticks={panel.ticks}
            interval={0}
            width={panel.axisWidth}
            allowDataOverflow
            tickLine={false}
            tickMargin={3}
            tickFormatter={label}
            tick={{ fill: "#808080", fontSize: 12, fontFamily: FONT }}
            axisLine={{ stroke: "#ccc", strokeWidth: 2 }}
          />
          {panel.minor.map((v) => (
            <ReferenceLine key={v} y={v} stroke="#cfcfcf" strokeWidth={1} />
          ))}
          {panel.ticks.map((v) => (
            <ReferenceLine key={v} y={v} stroke="#dedede" strokeWidth={1.5} />
          ))}
          <ReferenceLine y={panel.domain[1]} stroke="#e2e2e2" strokeWidth={2} />
          <ReferenceLine x={7000} stroke="#cfcfcf" strokeWidth={1} />
          <ReferenceLine x={0} stroke="#999" strokeWidth={1.5} />
          {panel.domain[0] < 0 && <ReferenceLine y={0} stroke="#999" strokeWidth={1.5} />}
          {panel.raw && (
            <Line
              dataKey="raw"
              stroke={ORANGE}
              strokeOpacity={0.2}
              strokeWidth={5.5}
              dot={false}
              connectNulls
              isAnimationActive={false}
            />
          )}
          <Line
            dataKey="smooth"
            stroke={ORANGE}
            strokeWidth={2.4}
            dot={false}
            isAnimationActive={false}
          />
          <ReferenceDot
            x={panel.end}
            y={panel.smooth ? panel.smooth[panel.smooth.length - 1] : 0}
            r={4}
            fill={ORANGE}
            stroke="none"
          />
        </LineChart>
      </div>
      <Icons left={left} top={top + 248} />
    </>
  );
}

export default function App() {
  return (
    <div style={{ position: "absolute", left: 0, top: 0, width: 1386, height: 889, background: "#fff", fontFamily: FONT }}>
      {PANELS.map((p, i) => (
        <ScalarCard key={p.title} panel={p} index={i} />
      ))}
      <span style={{ position: "absolute", left: 699, top: 861, fontSize: 16, lineHeight: "18px", color: "#555" }}>Page</span>
      <span style={{ position: "absolute", left: 739, top: 858, fontSize: 16, lineHeight: "18px", color: "#555" }}>1</span>
      <div style={{ position: "absolute", left: 738, top: 880, width: 36, height: 1, background: "#777" }} />
      <span style={{ position: "absolute", left: 778, top: 861, fontSize: 16, lineHeight: "18px", color: "#555" }}>of 2</span>
    </div>
  );
}
